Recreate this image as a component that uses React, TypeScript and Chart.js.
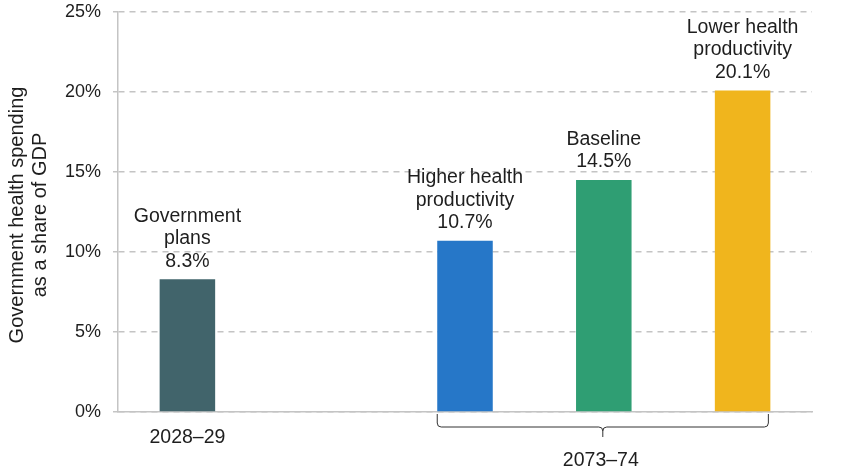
import React, { useEffect, useRef } from "react";
import { Chart, registerables } from "chart.js";

Chart.register(...registerables);

// ---- data ----
const categories = ["Government plans", "", "Higher health productivity", "Baseline", "Lower health productivity"];
const values: (number | null)[] = [8.3, null, 10.7, 14.5, 20.1];
const barLabelLines: string[][] = [["Government", "plans"], [], ["Higher health", "productivity"], ["Baseline"], ["Lower health", "productivity"]];
const barColors = ["#41646B", "rgba(0,0,0,0)", "#2677C8", "#2F9E73", "#F0B51D"];
const yTickValues = [0, 5, 10, 15, 20, 25];
const periodLabels = ["2028–29", "2073–74"];
const periodStart = [0, 2];
const periodEnd = [0, 4];
const yTitleLines = ["Government health spending", "as a share of GDP"];

const FONT = "'Liberation Sans', Arial, sans-serif";
const TEXT = "#1e1e1e";
const GRID = "#C4C4C4";

const annotatePlugin = {
  id: "annotate",
  afterDraw(chart: any) {
    const ctx = chart.ctx;
    const meta = chart.getDatasetMeta(0);
    const area = chart.chartArea;
    ctx.save();
    ctx.fillStyle = TEXT;
    ctx.font = `19.5px ${FONT}`;
    ctx.textAlign = "center";
    ctx.textBaseline = "middle";

    // bar value labels
    values.forEach((v, i) => {
      if (v == null) return;
      const el = meta.data[i];
      const lines = [...barLabelLines[i], v.toFixed(1) + "%"];
      const n = lines.length;
      lines.forEach((t, k) => {
        ctx.fillText(t, el.x, el.y - 18 - 22.5 * (n - 1 - k));
      });
    });

    // period labels / bracket
    periodLabels.forEach((lab, g) => {
      const a = meta.data[periodStart[g]];
      const b = meta.data[periodEnd[g]];
      if (periodStart[g] === periodEnd[g]) {
        ctx.fillText(lab, a.x, area.bottom + 26);
      } else {
        const L = a.x - a.width / 2;
        const R = b.x + b.width / 2 - 2;
        const mid = (L + R) / 2;
        const yT = area.bottom + 2;
        const yL = area.bottom + 15;
        const yB = area.bottom + 25;
        ctx.strokeStyle = "#333";
        ctx.lineWidth = 1;
        ctx.beginPath();
        ctx.moveTo(L, yT);
        ctx.lineTo(L, yL - 4);
        ctx.quadraticCurveTo(L, yL, L + 4, yL);
        ctx.lineTo(mid - 4, yL);
        ctx.quadraticCurveTo(mid, yL, mid, yL + 4);
        ctx.lineTo(mid, yB);
        ctx.moveTo(mid, yL + 4);
        ctx.quadraticCurveTo(mid, yL, mid + 4, yL);
        ctx.lineTo(R - 4, yL);
        ctx.quadraticCurveTo(R, yL, R, yL - 4);
        ctx.lineTo(R, yT);
        ctx.stroke();
        ctx.fillText(lab, mid - 2, area.bottom + 49);
      }
    });

    // y axis title
    ctx.font = `20px ${FONT}`;
    const cy = (area.top + area.bottom) / 2 + 3;
    ctx.translate(0, cy);
    ctx.rotate(-Math.PI / 2);
    yTitleLines.forEach((t, k) => {
      ctx.fillText(t, 0, 17.5 + 22.5 * k);
    });
    ctx.restore();
  },
};

export default function App() {
  const ref = useRef<HTMLCanvasElement>(null);
  useEffect(() => {
    document.body.style.margin = "0";
    const chart = new Chart(ref.current!, {
      type: "bar",
      data: {
        labels: categories,
        datasets: [
          {
            data: values,
            backgroundColor: barColors,
            barPercentage: 0.4,
            categoryPercentage: 1.0,
          },
        ],
      },
      options: {
        animation: false,
        responsive: false,
        devicePixelRatio: 1,
        layout: { padding: { top: 12, right: 36, left: 0, bottom: 0 } },
        plugins: { legend: { display: false }, tooltip: { enabled: false } },
        scales: {
          x: {
            grid: { display: false },
            border: { display: true, color: GRID, width: 1.5 },
            ticks: { display: false },
            afterFit: (s: any) => {
              s.height = 61;
              s.paddingLeft = 0;
              s.paddingRight = 0;
            },
          },
          y: {
            min: 0,
            max: 25,
            afterBuildTicks: (s: any) => {
              s.ticks = yTickValues.map((v) => ({ value: v }));
            },
            ticks: {
              padding: 12,
              color: TEXT,
              font: { size: 18, family: FONT },
              callback: (v: any) => v + "%",
            },
            grid: { color: GRID, lineWidth: 1.5, tickLength: 5, drawTicks: true },
            border: { display: true, color: GRID, width: 1.5, dash: [6, 5] },
            afterFit: (s: any) => {
              s.width = 118;
              s.paddingTop = 0;
              s.paddingBottom = 0;
            },
          },
        },
      },
      plugins: [annotatePlugin],
    });
    return () => chart.destroy();
  }, []);
  return (
    <div style={{ width: 848, height: 473 }}>
      <canvas ref={ref} width={848} height={473} />
    </div>
  );
}
